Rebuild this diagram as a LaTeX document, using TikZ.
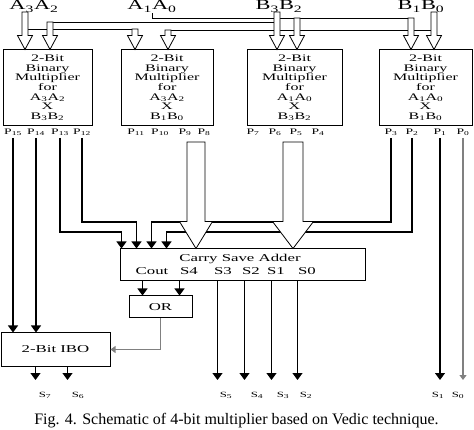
\documentclass[tikz,border=0pt]{standalone}
\usepackage{fontspec}
\setmainfont{Liberation Serif}
\newfontfamily\widefont[FakeStretch=1.6]{Liberation Serif}
\usetikzlibrary{calc,arrows.meta}

\newcommand{\ix}[1]{\textsubscript{#1}}
\newcommand{\hollowarrow}[5]{%
	\path (#1 |- #2.north) coordinate (tip);
	\draw[hollow] ($(#1)+(-#3,0)$) -- ($(tip)+(-#3,-#5)$) -- ($(tip)+(-#4,-#5)$) -- (tip)
		-- ($(tip)+(#4,-#5)$) -- ($(tip)+(#3,-#5)$) -- ($(#1)+(#3,0)$) -- cycle;
}

\tikzset{
	mult/.style={draw, line width=1pt, minimum width=92pt, minimum height=76pt, inner sep=0pt, align=center, font=\widefont\fontsize{10}{9.6}\selectfont},
	blk/.style={draw, line width=1pt, inner sep=0pt, font=\widefont\fontsize{10.5}{12}\selectfont},
	txt/.style={inner sep=0pt, font=\widefont\fontsize{10.5}{12}\selectfont},
	plabel/.style={inner sep=1pt, outer sep=1.5pt, font=\widefont\fontsize{8.5}{10}\selectfont},
	slabel/.style={inner sep=1pt, font=\widefont\fontsize{8}{10}\selectfont},
	inlabel/.style={inner sep=1pt, anchor=base, font=\widefont\fontsize{14}{16}\selectfont},
	bus/.style={line width=0.7pt},
	hollow/.style={draw, fill=white, line width=0.8pt},
	wire/.style={line width=1.2pt},
	sig/.style={wire, -{Triangle[width=10pt,length=7pt]}},
	graysig/.style={wire, draw=gray, -{Triangle[width=7pt,length=5pt]}},
}

\begin{document}
\begin{tikzpicture}[x=1pt, y=-1pt]
	\useasboundingbox (0,0) rectangle (474,430);

	\node[inlabel] (a32) at (34,10) {A\ix{3}A\ix{2}};
	\node[inlabel] (a10) at (152,10) {A\ix{1}A\ix{0}};
	\node[inlabel] (b32) at (279,10) {B\ix{3}B\ix{2}};
	\node[inlabel] (b10) at (421,10) {B\ix{1}B\ix{0}};

	\node[mult, minimum width=89pt] (m1) at (47.5,88) {2-Bit\\Binary\\Multiplier\\for\\A\ix{3}A\ix{2}\\X\\B\ix{3}B\ix{2}};
	\node[mult] (m2) at (167,88) {2-Bit\\Binary\\Multiplier\\for\\A\ix{3}A\ix{2}\\X\\B\ix{1}B\ix{0}};
	\node[mult, minimum width=95pt] (m3) at (294.5,88) {2-Bit\\Binary\\Multiplier\\for\\A\ix{1}A\ix{0}\\X\\B\ix{3}B\ix{2}};
	\node[mult, minimum width=93pt] (m4) at (425.5,88) {2-Bit\\Binary\\Multiplier\\for\\A\ix{1}A\ix{0}\\X\\B\ix{1}B\ix{0}};

	\coordinate (in1a) at (25,12);
	\coordinate (in1b) at (50,22);
	\coordinate (in2a) at (135,29);
	\coordinate (in2b) at (168,30);
	\coordinate (in3a) at (277,12);
	\coordinate (in3b) at (297,18);
	\coordinate (in4a) at (411,18);
	\coordinate (in4b) at (434,12);

	\draw[bus] (in1a |- in2a) -- (in2a);
	\draw[bus] (in1b) -- (in3a |- in1b);
	\draw[bus] (a10.south) |- (in4a);
	\draw[bus] (in2b) -- (in4b |- in2b);

	\hollowarrow{in1a}{m1}{3}{7.5}{14}
	\hollowarrow{in1b}{m1}{3}{7.5}{14}
	\hollowarrow{in2a}{m2}{3}{7.5}{14}
	\hollowarrow{in2b}{m2}{3}{7.5}{14}
	\hollowarrow{in3a}{m3}{3}{7.5}{14}
	\hollowarrow{in3b}{m3}{3}{7.5}{14}
	\hollowarrow{in4a}{m4}{3}{7.5}{14}
	\hollowarrow{in4b}{m4}{3}{7.5}{14}

	\node[plabel] (p15) at (13,132) {P\ix{15}};
	\node[plabel] (p14) at (36,132) {P\ix{14}};
	\node[plabel] (p13) at (60,132) {P\ix{13}};
	\node[plabel] (p12) at (82,132) {P\ix{12}};
	\node[plabel] (p11) at (136,132) {P\ix{11}};
	\node[plabel] (p10) at (160,132) {P\ix{10}};
	\node[plabel] (p9) at (185,132) {P\ix{9}};
	\node[plabel] (p8) at (204,132) {P\ix{8}};
	\node[plabel] (p7) at (253,132) {P\ix{7}};
	\node[plabel] (p6) at (275,132) {P\ix{6}};
	\node[plabel] (p5) at (296,132) {P\ix{5}};
	\node[plabel] (p4) at (318,132) {P\ix{4}};
	\node[plabel] (p3) at (391,132) {P\ix{3}};
	\node[plabel] (p2) at (412,132) {P\ix{2}};
	\node[plabel] (p1) at (440,132) {P\ix{1}};
	\node[plabel] (p0) at (463,132) {P\ix{0}};

	\node[blk, minimum width=245pt, minimum height=32pt] (csa) at (242.5,265) {};
	\node[txt] (csat) at (240,259) {Carry Save Adder};
	\node[txt] (cout) at (152,271) {Cout};
	\node[txt] (s4t) at (189,271) {S4};
	\node[txt] (s3t) at (223,271) {S3};
	\node[txt] (s2t) at (251,271) {S2};
	\node[txt] (s1t) at (276,271) {S1};
	\node[txt] (s0t) at (307,271) {S0};

	\node[blk, minimum width=63pt, minimum height=22pt] (or) at (160.5,307) {OR};
	\node[blk, minimum width=109pt, minimum height=33pt] (ibo) at (55.5,349.5) {2-Bit IBO};

	\coordinate (rowA) at (0,222);
	\coordinate (rowB) at (0,232);
	\coordinate (srow) at (0,380);
	\path (csa.north west) ++(2,0) coordinate (c1) ++(15,0) coordinate (c2) ++(15,0) coordinate (c3) ++(15,0) coordinate (c4);
	\path (csa.south west) ++(23,0) coordinate (o1) ++(37,0) coordinate (o2) ++(38,0) coordinate (o3) ++(27,0) coordinate (o4) ++(27,0) coordinate (o5) ++(26,0) coordinate (o6);
	\path (ibo.south west) ++(35,0) coordinate (i1) ++(32,0) coordinate (i2);
	\coordinate (q2) at (196,142);
	\coordinate (q3) at (293,142);

	\draw[sig] (p15.south) -- (p15.south |- ibo.north);
	\draw[sig] (p14.south) -- (p14.south |- ibo.north);
	\draw[sig] (p13.south) |- (c1 |- rowB) -- (c1);
	\draw[sig] (p12.south) |- (c2 |- rowA) -- (c2);
	\draw[sig] (p3.south) |- (c3 |- rowA) -- (c3);
	\draw[sig] (p2.south) |- (c4 |- rowB) -- (c4);
	\draw[sig] (p1.south) -- (p1.south |- srow);
	\draw[graysig, line width=1.6pt] (p0.south) -- (p0.south |- srow);

	\hollowarrow{q2}{csa}{9}{16.5}{27}
	\hollowarrow{q3}{csa}{10}{20.5}{27}

	\draw[sig] (o1) -- (o1 |- or.north);
	\draw[sig] (o2) -- (o2 |- or.north);
	\draw[sig] (o3) -- (o3 |- srow);
	\draw[sig] (o4) -- (o4 |- srow);
	\draw[sig] (o5) -- (o5 |- srow);
	\draw[sig] (o6) -- (o6 |- srow);
	\draw[graysig] (or.south) |- (ibo.east);
	\draw[sig] (i1) -- (i1 |- srow);
	\draw[sig] (i2) -- (i2 |- srow);

	\node[slabel] (s7) at (45,395) {S\ix{7}};
	\node[slabel] (s6) at (78,395) {S\ix{6}};
	\node[slabel] (s5) at (226,395) {S\ix{5}};
	\node[slabel] (s4) at (257,395) {S\ix{4}};
	\node[slabel] (s3) at (283,395) {S\ix{3}};
	\node[slabel] (s2) at (306,395) {S\ix{2}};
	\node[slabel] (s1) at (438,395) {S\ix{1}};
	\node[slabel] (s0) at (458,395) {S\ix{0}};

	\node[inner sep=0pt, font=\fontsize{16}{18}\selectfont] (cap) at (236.5,421) {Fig. 4. Schematic of 4-bit multiplier based on Vedic technique.};
\end{tikzpicture}
\end{document}
